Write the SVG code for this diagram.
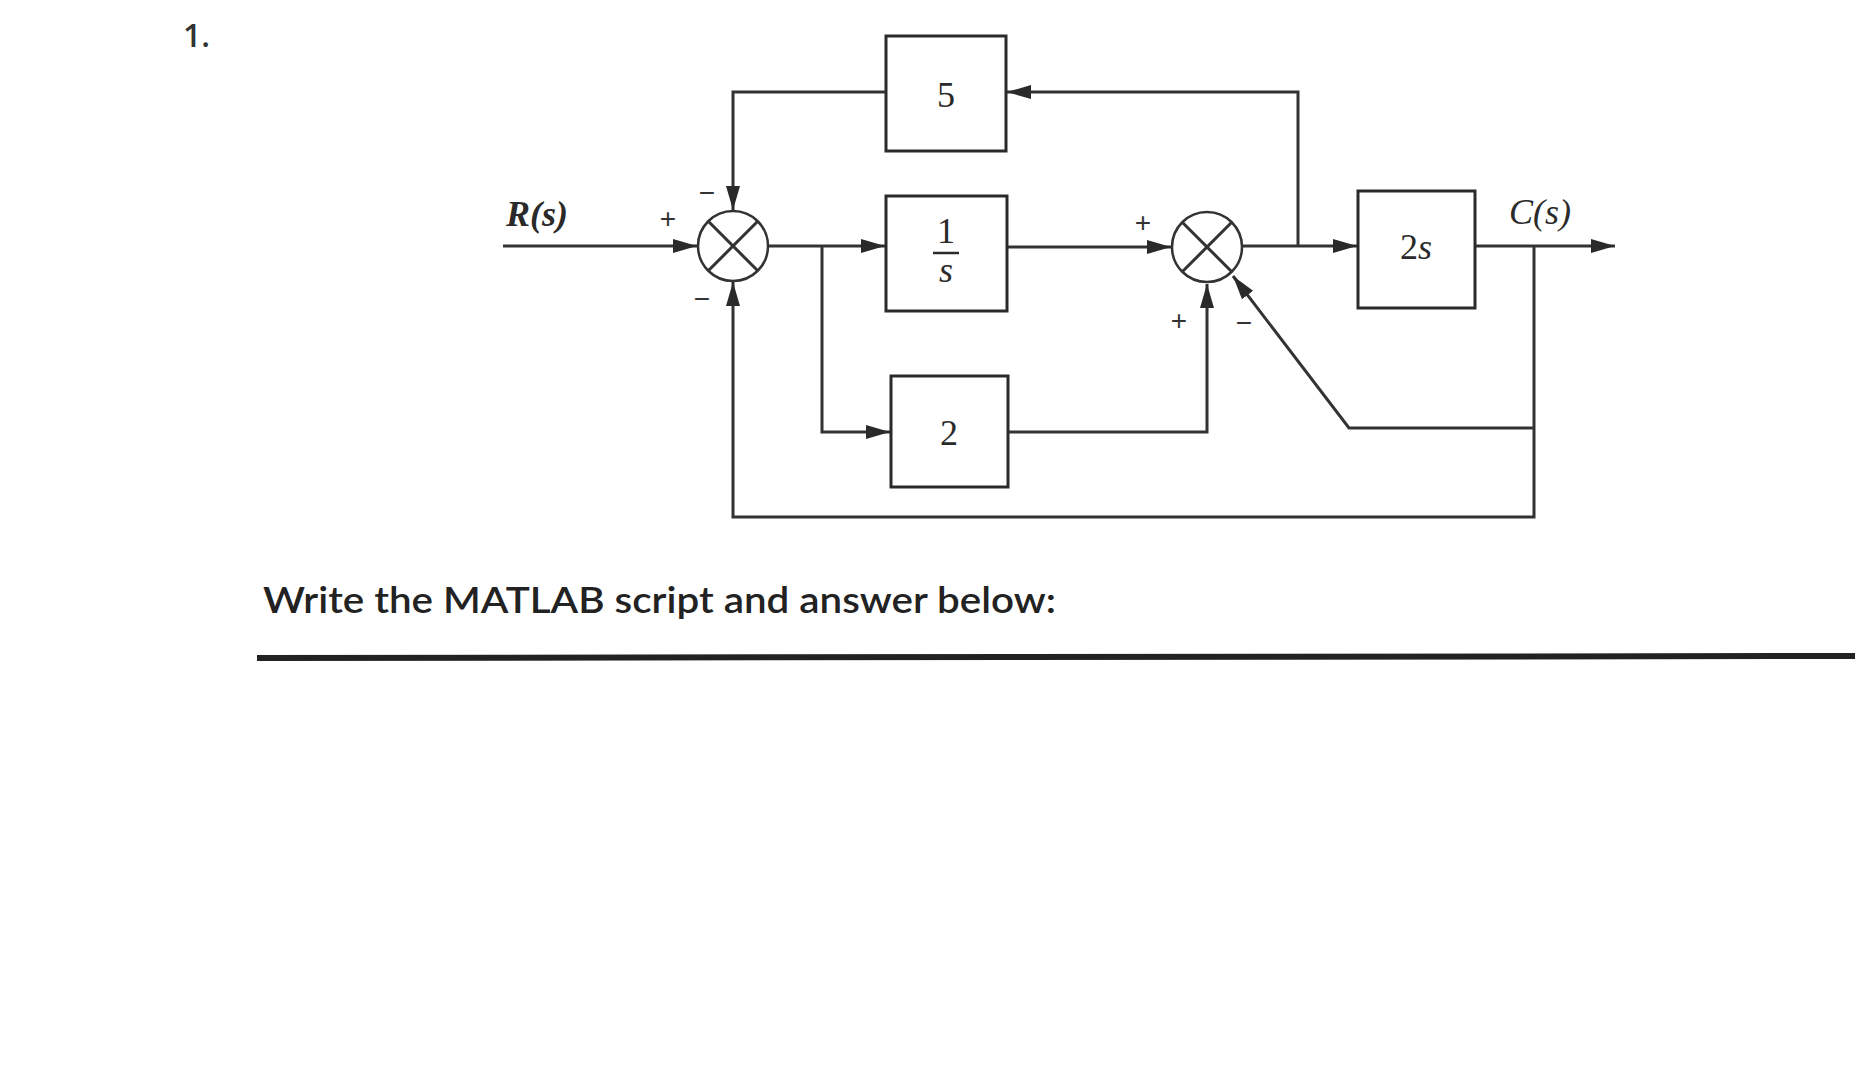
<svg xmlns="http://www.w3.org/2000/svg" width="1855" height="1080" viewBox="0 0 1855 1080">
<defs>
<marker id="arr" markerUnits="userSpaceOnUse" markerWidth="24" markerHeight="16" viewBox="0 0 24 16" refX="24" refY="8" orient="auto">
<path d="M0,1 L24,8 L0,15 Z" fill="#2a2a2a"/>
</marker>
<style>
.ln{fill:none;stroke:#333;stroke-width:3}
.bx{fill:#fff;stroke:#2a2a2a;stroke-width:3}
.sj{fill:#fff;stroke:#333;stroke-width:2.5}
.tm{font-family:"Liberation Serif",serif;font-size:36px;fill:#2a2a2a;text-anchor:middle}
.it{font-style:italic}
.sg{font-family:"Liberation Sans",sans-serif;font-size:28px;fill:#333;text-anchor:middle}
</style>
</defs>
<rect width="1855" height="1080" fill="#fff"/>
<text x="183" y="47" font-family="Open Sans, sans-serif" font-size="32" font-weight="600" fill="#333">1.</text>

<g id="connectors">
<path class="ln" d="M503,246 H697" marker-end="url(#arr)"/>
<path class="ln" d="M886,92 H733 V210" marker-end="url(#arr)"/>
<path class="ln" d="M1298,246 V92 H1007" marker-end="url(#arr)"/>
<path class="ln" d="M769,246 H885" marker-end="url(#arr)"/>
<path class="ln" d="M822,246 V432 H890" marker-end="url(#arr)"/>
<path class="ln" d="M1007,247 H1171" marker-end="url(#arr)"/>
<path class="ln" d="M1008,432 H1207 V284" marker-end="url(#arr)"/>
<path class="ln" d="M1534,428 H1349 L1233,276" marker-end="url(#arr)"/>
<path class="ln" d="M1243,246 H1357" marker-end="url(#arr)"/>
<path class="ln" d="M1475,246 H1615" marker-end="url(#arr)"/>
<path class="ln" d="M1534,246 V517 H733 V282" marker-end="url(#arr)"/>
</g>

<g id="sum1">
<circle class="sj" cx="733" cy="246" r="35"/>
<path class="ln" stroke-width="2.5" d="M708,221 L758,271 M758,221 L708,271"/>
</g>
<g id="sum2">
<circle class="sj" cx="1207" cy="247" r="35"/>
<path class="ln" stroke-width="2.5" d="M1182,222 L1232,272 M1232,222 L1182,272"/>
</g>

<g id="block-5">
<rect class="bx" x="886" y="36" width="120" height="115"/>
<text class="tm" x="946" y="107">5</text>
</g>
<g id="block-1s">
<rect class="bx" x="886" y="196" width="121" height="115"/>
<text class="tm" x="946" y="243">1</text>
<line x1="933" y1="253" x2="959" y2="253" stroke="#2a2a2a" stroke-width="2.5"/>
<text class="tm it" x="946" y="282">s</text>
</g>
<g id="block-2">
<rect class="bx" x="891" y="376" width="117" height="111"/>
<text class="tm" x="949" y="445">2</text>
</g>
<g id="block-2s">
<rect class="bx" x="1358" y="191" width="117" height="117"/>
<text class="tm" x="1416" y="259">2<tspan class="it">s</tspan></text>
</g>

<g id="labels">
<text class="tm it" x="537" y="226" font-weight="bold">R(s)</text>
<text class="tm it" x="1540" y="224">C(s)</text>
<text class="sg" x="668" y="228">+</text>
<text class="sg" x="707" y="202">−</text>
<text class="sg" x="702" y="308">−</text>
<text class="sg" x="1143" y="232">+</text>
<text class="sg" x="1179" y="330">+</text>
<text class="sg" x="1244" y="332">−</text>
</g>

<text x="263" y="613" font-family="Lato, sans-serif" font-size="36" font-weight="600" fill="#222" textLength="793" lengthAdjust="spacingAndGlyphs">Write the MATLAB script and answer below:</text>
<line x1="257" y1="658" x2="1855" y2="656" stroke="#222" stroke-width="6"/>
</svg>
